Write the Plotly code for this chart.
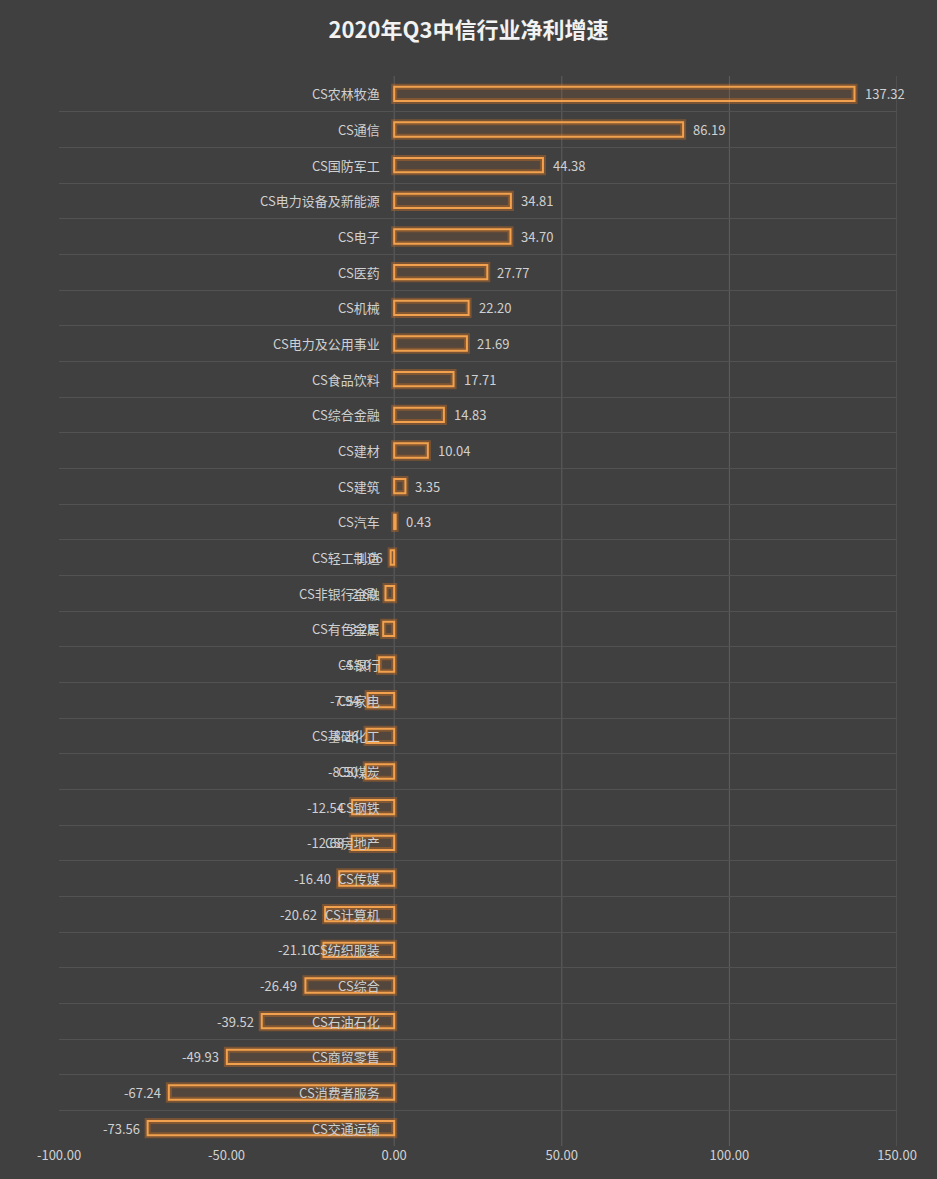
import plotly.graph_objects as go

categories = ["CS农林牧渔", "CS通信", "CS国防军工", "CS电力设备及新能源", "CS电子", "CS医药",
              "CS机械", "CS电力及公用事业", "CS食品饮料", "CS综合金融", "CS建材", "CS建筑",
              "CS汽车", "CS轻工制造", "CS非银行金融", "CS有色金属", "CS银行", "CS家电",
              "CS基础化工", "CS煤炭", "CS钢铁", "CS房地产", "CS传媒", "CS计算机",
              "CS纺织服装", "CS综合", "CS石油石化", "CS商贸零售", "CS消费者服务", "CS交通运输"]
values = [137.32, 86.19, 44.38, 34.81, 34.70, 27.77, 22.20, 21.69, 17.71, 14.83, 10.04, 3.35,
          0.43, -1.06, -2.60, -3.28, -4.50, -7.94, -8.26, -8.50, -12.54, -12.68, -16.40, -20.62,
          -21.10, -26.49, -39.52, -49.93, -67.24, -73.56]
x_ticks = [-100, -50, 0, 50, 100, 150]

label_font = dict(family="Noto Sans CJK SC", size=13, color="#d0d0d0")

fig = go.Figure()
# glow
fig.add_trace(go.Bar(
    x=values, y=categories, orientation="h",
    marker=dict(color="rgba(0,0,0,0)", line=dict(color="rgba(230,120,30,0.35)", width=6)),
    hoverinfo="skip", showlegend=False))
fig.add_trace(go.Bar(
    x=values, y=categories, orientation="h",
    marker=dict(color="rgba(200,110,40,0.14)", line=dict(color="#f2a24e", width=2)),
    showlegend=False))

annotations = []
for c, v in zip(categories, values):
    annotations.append(dict(x=0, y=c, xref="x", yref="y", text=c, showarrow=False,
                            xanchor="right", xshift=-12, font=label_font))
    annotations.append(dict(x=v, y=c, xref="x", yref="y", text=f"{v:.2f}", showarrow=False,
                            xanchor="left" if v >= 0 else "right",
                            xshift=8 if v >= 0 else -6, font=label_font))

shapes = [dict(type="line", xref="x", yref="paper", x0=t, x1=t, y0=0, y1=1,
               line=dict(color="#5e5e5e", width=1), layer="below")
          for t in x_ticks if t >= 0]

fig.update_layout(
    width=937, height=1179,
    paper_bgcolor="#404040", plot_bgcolor="#404040",
    margin=dict(l=59, r=40, t=76, b=33),
    title=dict(text="<b>2020年Q3中信行业净利增速</b>", x=0.5, xanchor="center",
               y=0.9745, yanchor="middle",
               font=dict(family="Noto Sans CJK SC", size=22, color="#f2f2f2")),
    barmode="overlay", bargap=0.6,
    annotations=annotations,
    shapes=shapes,
    xaxis=dict(range=[-100, 150], tickvals=x_ticks, ticktext=[f"{t:.2f}" for t in x_ticks],
               showgrid=False, zeroline=False,
               tickfont=dict(family="Noto Sans CJK SC", size=13, color="#d0d0d0"),
               ticks="", showline=False),
    yaxis=dict(categoryorder="array", categoryarray=categories,
               range=[len(categories) - 0.5, -0.5],
               showticklabels=False, showgrid=True, gridcolor="#525252", tickson="boundaries",
               ticks="", showline=False, zeroline=False),
)

fig.write_html("out.html")
